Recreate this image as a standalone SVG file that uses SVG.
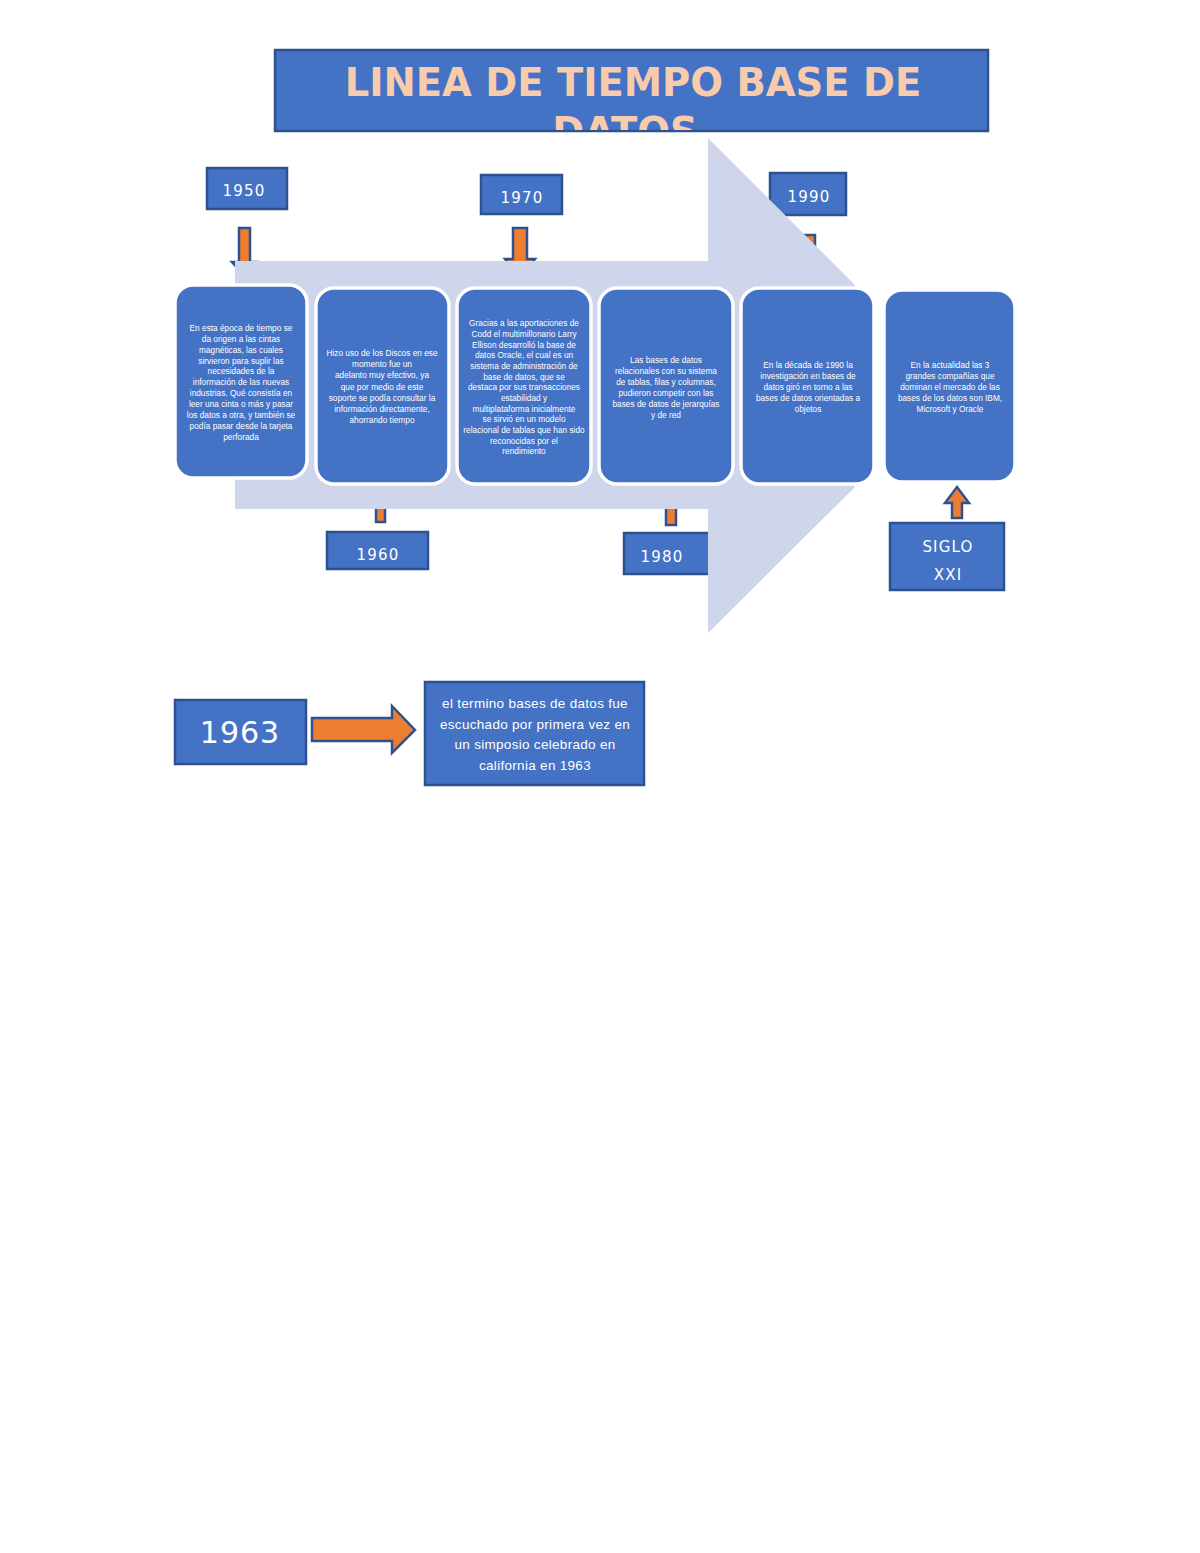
<svg xmlns="http://www.w3.org/2000/svg" width="1200" height="1553" viewBox="0 0 1200 1553">
<defs>
<style>
.bx{fill:#4472C4;stroke:#2F528F;stroke-width:2.5}
.rb{fill:#4472C4;stroke:#FFFFFF;stroke-width:3.5}
.oa{fill:#ED7D31;stroke:#2F528F;stroke-width:2.5;stroke-linejoin:miter}
.yr{font-family:"DejaVu Sans",sans-serif;font-size:15px;fill:#FFFFFF;text-anchor:middle;letter-spacing:1.2px}
.sm{font-family:"Liberation Sans",Arial,sans-serif;font-size:8.3px;fill:#FFFFFF;text-anchor:middle}
.md{font-family:"Liberation Sans",Arial,sans-serif;font-size:13.5px;fill:#FFFFFF;text-anchor:middle;letter-spacing:0.3px}
.tt{font-family:"DejaVu Sans",sans-serif;font-weight:bold;font-size:38.5px;fill:#F8CBAD;text-anchor:middle}
</style>
<clipPath id="tclip"><rect x="276" y="51" width="711" height="79"/></clipPath>
</defs>
<rect width="1200" height="1553" fill="#FFFFFF"/>

<g id="title">
<rect x="275" y="50" width="713" height="81" fill="#4472C4" stroke="#2F528F" stroke-width="2.5"/>
<g clip-path="url(#tclip)">
<text class="tt" x="633" y="96">LINEA DE TIEMPO BASE DE</text>
<text class="tt" x="625" y="145">DATOS</text>
</g>
</g>

<g id="connectors">
<polygon class="oa" points="239,228 250,228 250,262 257,262 244.5,276 232,262 239,262"/>
<polygon class="oa" points="513,228 527,228 527,259 535,259 520,276 505,259 513,259"/>
<polygon class="oa" points="805,235 815,235 815,262 822,262 810,276 798,262 805,262"/>
<polygon class="oa" points="376,522 385,522 385,505 392,505 380.5,492 369,505 376,505"/>
<polygon class="oa" points="666,525 676,525 676,505 683,505 671,492 659,505 666,505"/>
<polygon class="oa" points="952,518 962,518 962,503 969,503 957,487 945,503 952,503"/>
<polygon class="oa" points="312,718 392,718 392,706 415,730 392,753 392,741 312,741"/>
</g>

<g id="y1950"><rect class="bx" x="207" y="168" width="80" height="41"/><text class="yr" x="244" y="196">1950</text></g>
<g id="y1970"><rect class="bx" x="481" y="175" width="81" height="39"/><text class="yr" x="522" y="203">1970</text></g>
<g id="y1990"><rect class="bx" x="770" y="173" width="76" height="42"/><text class="yr" x="809" y="202">1990</text></g>
<g id="y1960"><rect class="bx" x="327" y="532" width="101" height="37"/><text class="yr" x="378" y="560">1960</text></g>
<g id="y1980"><rect class="bx" x="624" y="533" width="100" height="41"/><text class="yr" x="662" y="562">1980</text></g>

<g id="bigarrow">
<polygon points="235,261 708,261 708,138 855,285 855,487 708,633 708,509 235,509" fill="#CFD5EA"/>
</g>

<g id="siglo"><rect class="bx" x="890" y="523" width="114" height="67"/><text class="yr" x="948" y="552">SIGLO</text><text class="yr" x="948" y="580">XXI</text></g>

<g id="box1">
<rect class="rb" x="175" y="285" width="132" height="193" rx="18"/>
<text class="sm"><tspan x="241" y="331">En esta época de tiempo se</tspan><tspan x="241" y="342">da origen a las cintas</tspan><tspan x="241" y="353">magnéticas, las cuales</tspan><tspan x="241" y="364">sirvieron para suplir las</tspan><tspan x="241" y="374">necesidades de la</tspan><tspan x="241" y="385">información de las nuevas</tspan><tspan x="241" y="396">industrias. Qué consistía en</tspan><tspan x="241" y="407">leer una cinta o más y pasar</tspan><tspan x="241" y="418">los datos a otra, y también se</tspan><tspan x="241" y="429">podía pasar desde la tarjeta</tspan><tspan x="241" y="440">perforada</tspan></text>
</g>
<g id="box2">
<rect class="rb" x="316" y="288" width="133" height="196" rx="18"/>
<text class="sm"><tspan x="382" y="356">Hizo uso de los Discos en ese</tspan><tspan x="382" y="367">momento fue un</tspan><tspan x="382" y="378">adelanto muy efectivo, ya</tspan><tspan x="382" y="390">que por medio de este</tspan><tspan x="382" y="401">soporte se podía consultar la</tspan><tspan x="382" y="412">información directamente,</tspan><tspan x="382" y="423">ahorrando tiempo</tspan></text>
</g>
<g id="box3">
<rect class="rb" x="457" y="288" width="134" height="196" rx="18"/>
<text class="sm"><tspan x="524" y="326">Gracias a las aportaciones de</tspan><tspan x="524" y="337">Codd el multimillonario Larry</tspan><tspan x="524" y="348">Ellison desarrolló la base de</tspan><tspan x="524" y="358">datos Oracle, el cual es un</tspan><tspan x="524" y="369">sistema de administración de</tspan><tspan x="524" y="380">base de datos, que se</tspan><tspan x="524" y="390">destaca por sus transacciones</tspan><tspan x="524" y="401">estabilidad y</tspan><tspan x="524" y="412">multiplataforma inicialmente</tspan><tspan x="524" y="422">se sirvió en un modelo</tspan><tspan x="524" y="433">relacional de tablas que han sido</tspan><tspan x="524" y="444">reconocidas por el</tspan><tspan x="524" y="454">rendimiento</tspan></text>
</g>
<g id="box4">
<rect class="rb" x="599" y="288" width="134" height="196" rx="18"/>
<text class="sm"><tspan x="666" y="363">Las bases de datos</tspan><tspan x="666" y="374">relacionales con su sistema</tspan><tspan x="666" y="385">de tablas, filas y columnas,</tspan><tspan x="666" y="396">pudieron competir con las</tspan><tspan x="666" y="407">bases de datos de jerarquías</tspan><tspan x="666" y="418">y de red</tspan></text>
</g>
<g id="box5">
<rect class="rb" x="741" y="288" width="133" height="196" rx="18"/>
<text class="sm"><tspan x="808" y="368">En la década de 1990 la</tspan><tspan x="808" y="379">investigación en bases de</tspan><tspan x="808" y="390">datos giró en torno a las</tspan><tspan x="808" y="401">bases de datos orientadas a</tspan><tspan x="808" y="412">objetos</tspan></text>
</g>
<g id="box6">
<rect class="rb" x="884" y="290" width="131" height="192" rx="18"/>
<text class="sm"><tspan x="950" y="368">En la actualidad las 3</tspan><tspan x="950" y="379">grandes compañías que</tspan><tspan x="950" y="390">dominan el mercado de las</tspan><tspan x="950" y="401">bases de los datos son IBM,</tspan><tspan x="950" y="412">Microsoft y Oracle</tspan></text>
</g>

<g id="y1963"><rect class="bx" x="175" y="700" width="131" height="64"/><text x="240" y="743" font-family="DejaVu Sans, sans-serif" font-size="30" fill="#FFFFFF" text-anchor="middle" letter-spacing="1">1963</text></g>

<g id="note1963">
<rect class="bx" x="425" y="682" width="219" height="103"/>
<text class="md"><tspan x="535" y="708">el termino bases de datos fue</tspan><tspan x="535" y="729">escuchado por primera vez en</tspan><tspan x="535" y="749">un simposio celebrado en</tspan><tspan x="535" y="770">california en 1963</tspan></text>
</g>
</svg>
